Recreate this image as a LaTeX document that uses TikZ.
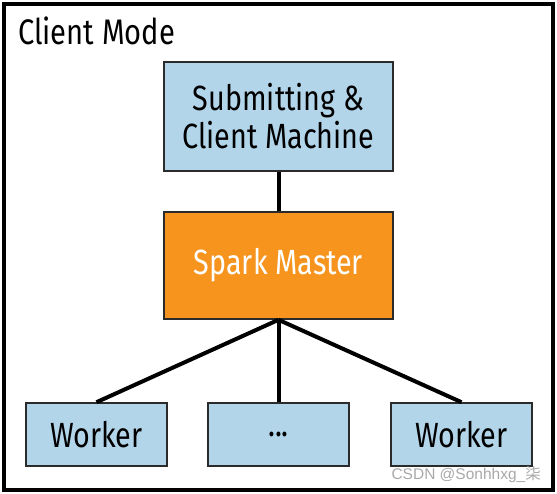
\documentclass[tikz,border=0pt]{standalone}
\usepackage{fontspec}
\setmainfont{Fira Sans}[FakeStretch=0.82]
\newfontfamily\cjkfont{Noto Sans CJK SC}
\newfontfamily\wmfont{Liberation Sans}
\definecolor{boxblue}{HTML}{B3D5EA}
\definecolor{sparkorange}{HTML}{F7941E}
\definecolor{boxline}{HTML}{2B2B2B}
\definecolor{wmgray}{HTML}{A8A8A8}
\tikzset{
  box/.style={draw=boxline, line width=1.6pt, fill=boxblue, inner sep=0pt, align=center,
    font=\fontsize{35}{38}\selectfont},
  master/.style={box, fill=sparkorange, text=white},
  link/.style={line width=4pt, black},
}
\begin{document}
\begin{tikzpicture}[x=1pt,y=-1pt]
\useasboundingbox (0,0) rectangle (557,493);
\draw[line width=4.5pt, black] (4,4) rectangle (553,490);
\node[anchor=base west, inner sep=0pt, font=\fontsize{35.5}{38}\selectfont] (title) at (18,44) {Client Mode};
\node[box, minimum width=229pt, minimum height=109pt] (client) at (278.5,116.5) {Submitting \&\\Client Machine};
\node[master, minimum width=229pt, minimum height=107pt] (spark) at (278.5,265.5) {Spark Master};
\node[box, minimum width=141pt, minimum height=63pt] (w1) at (96.5,434.5) {Worker};
\node[box, minimum width=141pt, minimum height=63pt] (w2) at (278.5,434.5) {...};
\node[box, minimum width=141pt, minimum height=63pt] (w3) at (461.5,434.5) {Worker};
\draw[link] (client.south) -- (spark.north);
\draw[link] (spark.south) -- (w1.north);
\draw[link] (spark.south) -- (w2.north);
\draw[link] (spark.south) -- (w3.north);
\node[anchor=base east, inner sep=0pt, text=wmgray, font=\wmfont\fontsize{15.5}{18}\selectfont] (wm) at (541,479) {CSDN @Sonhhxg\_{\cjkfont 柒}};
\end{tikzpicture}
\end{document}
